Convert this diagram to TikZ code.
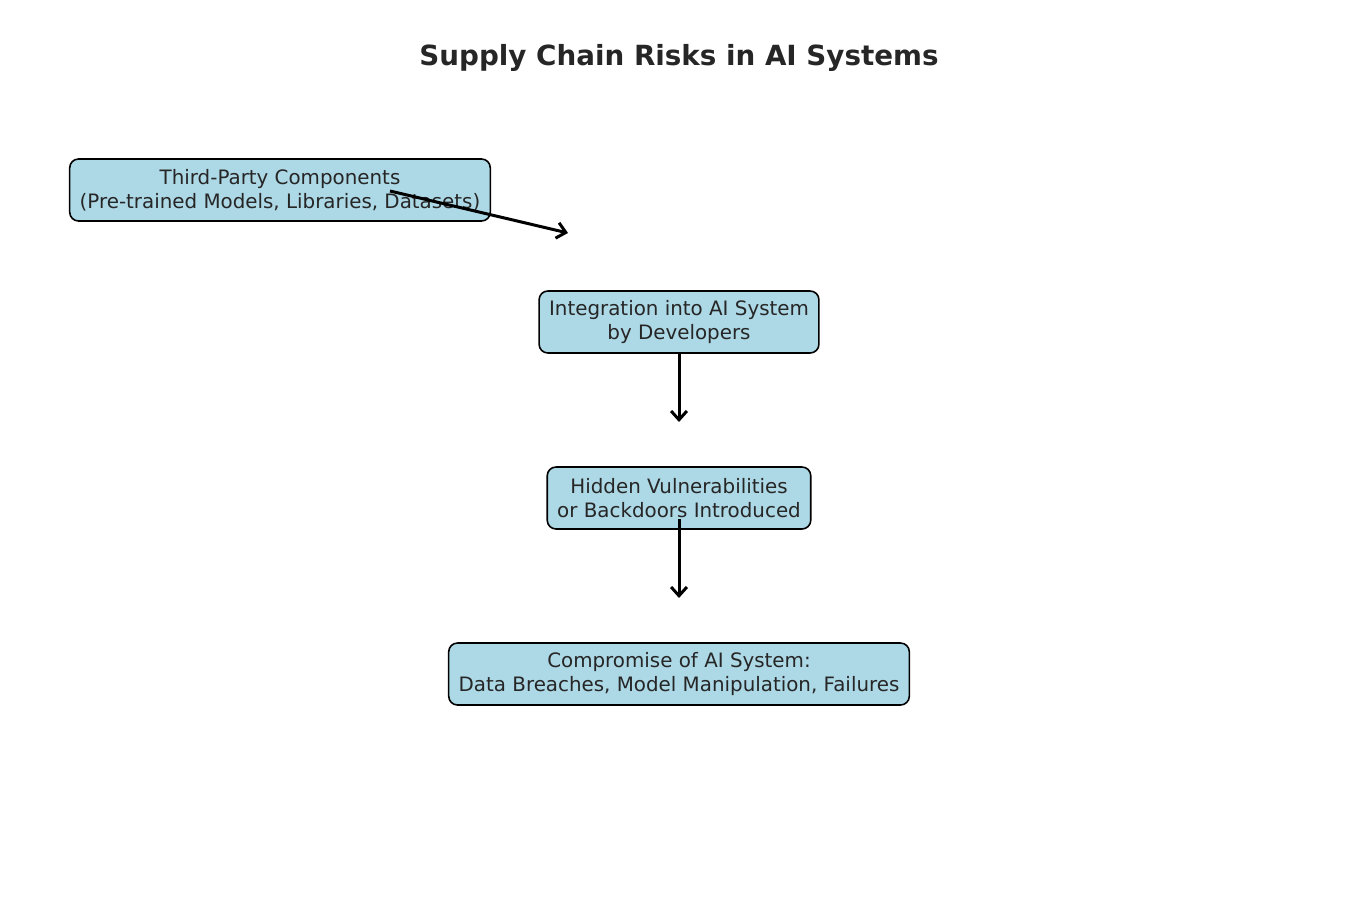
\documentclass[tikz,border=0pt]{standalone}
\usepackage{fontspec}
\setmainfont{DejaVu Sans}
\usepackage{tikz}
\usetikzlibrary{shapes,arrows.meta}

\definecolor{boxblue}{HTML}{ADD8E6}
\definecolor{txtgray}{HTML}{262626}

\begin{document}
\begin{tikzpicture}[x=0.02cm, y=-0.02cm,
  stage/.style={draw=black, line width=0.9pt, fill=boxblue, rounded corners=5pt,
    text=txtgray, align=center, font=\fontsize{11.3}{13.6}\selectfont,
    minimum height=1.24cm, inner xsep=0.2cm},
  flow/.style={line width=1.7pt, -{Straight Barb[length=5pt, width=9pt, line width=1.7pt]}}]
  \useasboundingbox (0,0) rectangle (1358,909);

  \node[font=\fontsize{15.8}{19}\selectfont\bfseries, text=txtgray] (title) at (679,58) {Supply Chain Risks in AI Systems};

  \node[stage] (thirdparty) at (280,190) {Third-Party Components\\(Pre-trained Models, Libraries, Datasets)};
  \node[stage] (integration) at (679,322) {Integration into AI System\\by Developers};
  \node[stage] (hidden) at (679,498) {Hidden Vulnerabilities\\or Backdoors Introduced};
  \node[stage] (compromise) at (679,674) {Compromise of AI System:\\Data Breaches, Model Manipulation, Failures};

  \coordinate (tail1) at (390,191);
  \coordinate (head1) at (568,233);
  \coordinate (tail2) at (679,352);
  \coordinate (head2) at (679,422);
  \coordinate (tail3) at (679,519);
  \coordinate (head3) at (679,598);

  \draw[flow] (tail1) -- (head1);
  \draw[flow] (tail2) -- (head2);
  \draw[flow] (tail3) -- (head3);
\end{tikzpicture}
\end{document}
